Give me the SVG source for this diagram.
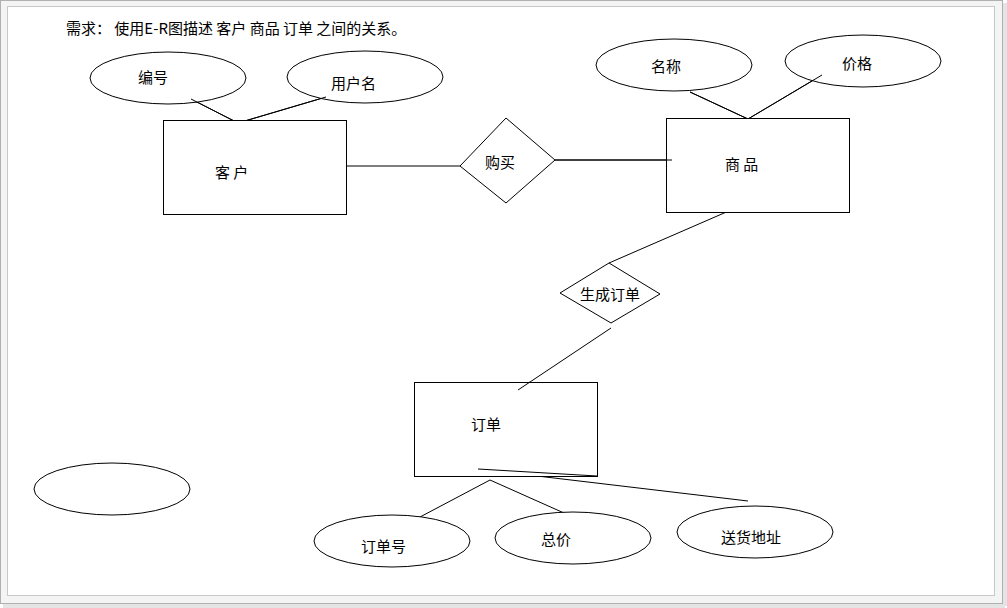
<svg xmlns="http://www.w3.org/2000/svg" width="1007" height="608" viewBox="0 0 1007 608">
<style>
.s{fill:#fff;stroke:#000;stroke-width:1}
.c line{stroke:#000;stroke-width:1}
text{font-family:"Noto Sans CJK SC","Noto Sans",sans-serif;font-size:15px;fill:#000}
</style>
<rect x="0" y="0" width="1007" height="608" fill="#fff"/>
<rect x="3" y="604" width="1002" height="4" fill="#e4e4e4"/>
<rect x="1003" y="3" width="4" height="603" fill="#e4e4e4"/>
<rect x="0.5" y="0.5" width="1002" height="603" fill="#f4f4f4" stroke="#b0b0b0"/>
<rect x="7.5" y="6.5" width="987" height="589" fill="#fff" stroke="#c8c8c8"/>
<text x="66" y="34">需求： 使用E-R图描述 客户 商品 订单 之间的关系。</text>
<g class="c">
<line x1="191" y1="99" x2="238" y2="123"/>
<line x1="238" y1="123" x2="326" y2="97"/>
<line x1="347" y1="166" x2="460" y2="166"/>
<line x1="555" y1="160" x2="672" y2="160"/>
<line x1="690" y1="92" x2="748" y2="119"/>
<line x1="748" y1="119" x2="822" y2="75"/>
<line x1="731" y1="210" x2="609" y2="263"/>
<line x1="611" y1="328" x2="518" y2="390"/>
<line x1="490" y1="480" x2="420" y2="517"/>
<line x1="490" y1="480" x2="573" y2="517"/>
<line x1="478" y1="469" x2="748" y2="501"/>
</g>
<g id="attr-bianhao"><ellipse class="s" cx="168" cy="78" rx="78" ry="26"/><text x="138" y="83">编号</text></g>
<g id="attr-yonghuming"><ellipse class="s" cx="365" cy="77" rx="78" ry="26"/><text x="331" y="89">用户名</text></g>
<g class="c"><line x1="191" y1="99" x2="238" y2="123"/><line x1="238" y1="123" x2="326" y2="97"/></g>
<g id="customer"><rect class="s" x="163.5" y="120.5" width="183" height="94"/><text x="215" y="178">客 户</text></g>
<g id="buy"><polygon class="s" points="460,166 506,118 555,160 506,203"/><text x="485" y="168">购买</text></g>
<g id="attr-mingcheng"><ellipse class="s" cx="674" cy="65" rx="78" ry="26"/><text x="651" y="72">名称</text></g>
<g id="attr-jiage"><ellipse class="s" cx="863" cy="61" rx="78" ry="26"/><text x="842" y="69">价格</text></g>
<g class="c"><line x1="690" y1="92" x2="748" y2="119"/><line x1="748" y1="119" x2="822" y2="75"/></g>
<g id="product"><rect class="s" x="666.5" y="118.5" width="183" height="94"/><text x="725" y="170">商 品</text><line x1="555" y1="160" x2="672" y2="160" stroke="#000"/></g>
<g id="make-order"><polygon class="s" points="560,293 609,263 660,294 611,323"/><text x="580" y="300">生成订单</text></g>
<g id="order"><rect class="s" x="414.5" y="382.5" width="183" height="94"/><text x="471" y="430">订单</text><line x1="518" y1="390" x2="530" y2="382" stroke="#000"/><line x1="478" y1="469" x2="597" y2="476" stroke="#000"/></g>
<g id="attr-dingdanhao"><ellipse class="s" cx="392" cy="541" rx="78" ry="26"/><text x="361" y="552">订单号</text></g>
<g id="attr-zongjia"><ellipse class="s" cx="573" cy="538" rx="78" ry="26"/><text x="541" y="545">总价</text></g>
<g id="attr-songhuo"><ellipse class="s" cx="755" cy="532" rx="78" ry="26"/><text x="721" y="543">送货地址</text></g>
<g id="empty"><ellipse class="s" cx="112" cy="489" rx="78" ry="26"/></g>
</svg>
